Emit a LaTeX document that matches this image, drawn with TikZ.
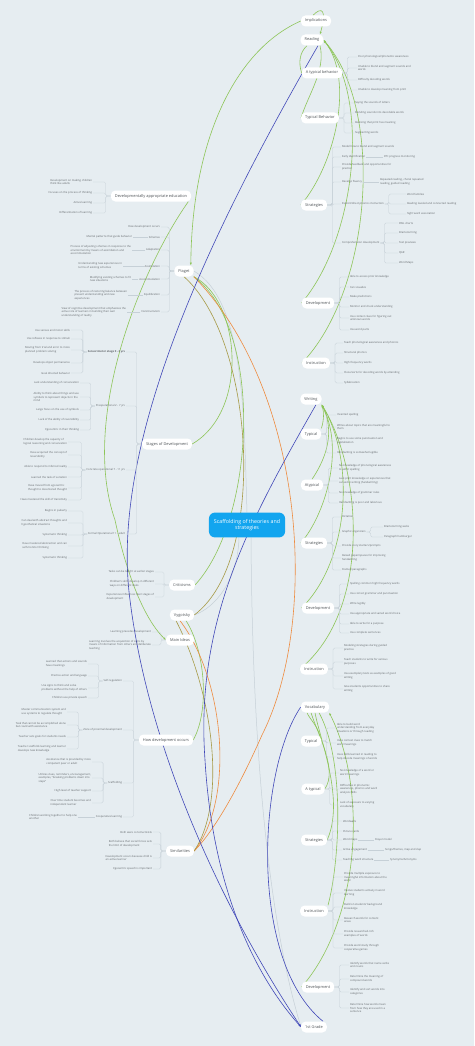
\documentclass[tikz,border=0pt]{standalone}
\usepackage{fontspec}
\setmainfont{Open Sans}
\usetikzlibrary{arrows.meta}
\definecolor{mapbg}{HTML}{E6EDF1}
\definecolor{mapblue}{HTML}{12A5EF}
\definecolor{topictext}{HTML}{4E5357}
\definecolor{leaftext}{HTML}{62676B}
\definecolor{leafline}{HTML}{C6D0D7}
\definecolor{relgreen}{HTML}{8DC558}
\definecolor{relblue}{HTML}{4148B8}
\definecolor{relorange}{HTML}{EE8B3F}
\definecolor{relolive}{HTML}{A69A45}

\newcommand{\leaffont}{\fontsize{2.7}{3.5}\selectfont}
\newcommand{\topicfont}{\fontsize{3.9}{4.7}\selectfont}
\newcommand{\centralfont}{\fontsize{5.3}{6.5}\selectfont}

\pgfdeclarelayer{background}
\pgfsetlayers{background,main}

\tikzset{
  topic/.style={fill=white, rounded corners=4.5pt, font=\topicfont, text=topictext,
    text height=3pt, text depth=1pt, inner xsep=4pt, inner ysep=3.5pt},
  central/.style={fill=mapblue, rounded corners=6pt, font=\centralfont, text=white,
    align=center, inner xsep=5pt, inner ysep=6.5pt},
  rleaf/.style={anchor=west, align=left, font=\leaffont, text=leaftext, inner sep=0.8pt},
  lleaf/.style={anchor=east, align=left, font=\leaffont, text=leaftext, inner sep=0.8pt},
  leafedge/.style={leafline, line width=0.3pt, rounded corners=1.5pt},
  treeline/.style={leafline, line width=0.5pt},
  relline/.style={line width=0.6pt},
  arrowend/.style={-{Latex[length=2.6pt,width=2.2pt]}},
}

\begin{document}
\begin{tikzpicture}[x=1pt,y=-1pt]
\begin{pgfonlayer}{background}
  \fill[mapbg] (0,0) rectangle (474,1046);
\end{pgfonlayer}
\useasboundingbox (0,0) rectangle (474,1046);

% central topic
\node[central] (central) at (247,525) {Scaffolding of theories and\\strategies};

% right column topics
\node[topic] (impl) at (316,21) {Implications};
\node[topic] (read) at (312,40) {Reading};
\node[topic] (rdatyp) at (322,73) {A typical behavior};
\node[topic] (rdtyp) at (320,118) {Typical Behavior};
\node[topic] (rdstrat) at (314,205) {Strategies};
\node[topic] (rddev) at (318,303) {Development};
\node[topic] (rdinstr) at (316,363) {Instruction};
\node[topic] (writ) at (311,399) {Writing};
\node[topic] (wrtyp) at (311,434) {Typical};
\node[topic] (wratyp) at (312,485) {Atypical};
\node[topic] (wrstrat) at (314,543) {Strategies};
\node[topic] (wrdev) at (318,608) {Development};
\node[topic] (wrinstr) at (314,669) {Instruction};
\node[topic] (voc) at (315,707) {Vocabulary};
\node[topic] (vctyp) at (311,741) {Typical};
\node[topic] (vcatyp) at (313,789) {A typical};
\node[topic] (vcstrat) at (314,840) {Strategies};
\node[topic] (vcinstr) at (314,911) {Instruction};
\node[topic] (vcdev) at (318,987) {Development};
\node[topic] (grade) at (314,1027) {1st Grade};

% left column topics
\node[topic] (dae) at (151,196) {Developmentally appropriate education};
\node[topic] (piaget) at (184,271) {Piaget};
\node[topic] (stages) at (167,444) {Stages of Development};
\node[topic] (crit) at (182,585) {Criticisms};
\node[topic] (vyg) at (182,615) {Vygotsky};
\node[topic] (mainid) at (180,640) {Main Ideas};
\node[topic] (howdev) at (166,740) {How development occurs};
\node[topic] (simil) at (180,851) {Similarities};

% reading leaves
\foreach \y/\t [count=\i] in {57/{Poor phonological/phonemic awareness}, 68/{Unable to blend and segment sounds and\\words}, 80/{Difficulty decoding words}, 90/{Unable to develop meaning from print}}
  {\node[rleaf] (rdatyp\i) at (357,\y) {\t};
   \draw[leafedge] (rdatyp.east) -- ++(5,0) |- (rdatyp\i.west);}
\foreach \y/\t [count=\i] in {103/{Saying the sounds of letters}, 113/{Blending sounds into decodable words}, 123/{Realizing that print has meaning}, 133/{Segmenting words}}
  {\node[rleaf] (rdtyp\i) at (354,\y) {\t};
   \draw[leafedge] (rdtyp.east) -- ++(5,0) |- (rdtyp\i.west);}
\foreach \y/\t [count=\i] in {147/{Model how to blend and segment sounds}, 157/{Early identification}, 167/{Provide feedback and opportunities for\\practice}, 182/{Develop fluency}, 204/{Explicit/direct phonics instruction}, 243/{Comprehension development}}
  {\node[rleaf] (rdstrat\i) at (341,\y) {\t};
   \draw[leafedge] (rdstrat.east) -- ++(5,0) |- (rdstrat\i.west);}
\node[rleaf] (rdstrat2a) at (383,157) {RTI: progress monitoring};
\draw[leafedge] (rdstrat2.east) -- (rdstrat2a.west);
\node[rleaf] (rdstrat4a) at (379,182) {Repeated reading, choral repeated\\reading, guided reading};
\draw[leafedge] (rdstrat4.east) -- (rdstrat4a.west);
\foreach \y/\t [count=\i] in {194/{Word families}, 204/{Reading leveled and connected reading}, 214/{Sight word association}}
  {\node[rleaf] (rdstrat5x\i) at (406,\y) {\t};
   \draw[leafedge] (rdstrat5.east) -- ++(4,0) |- (rdstrat5x\i.west);}
\foreach \y/\t [count=\i] in {223/{KWL charts}, 233/{Brainstorming}, 243/{Text previews}, 253/{QAR}, 263/{Word Maps}}
  {\node[rleaf] (rdstrat6x\i) at (398,\y) {\t};
   \draw[leafedge] (rdstrat6.east) -- ++(4,0) |- (rdstrat6x\i.west);}
\foreach \y/\t [count=\i] in {277/{Able to access prior knowledge}, 287/{Can visualize}, 297/{Make predictions}, 307/{Monitor and check understanding}, 318/{Use context clues for figuring out\\unknown words}, 330/{Use word parts}}
  {\node[rleaf] (rddev\i) at (349,\y) {\t};
   \draw[leafedge] (rddev.east) -- ++(5,0) |- (rddev\i.west);}
\foreach \y/\t [count=\i] in {343/{Teach phonological awareness and phonics}, 353/{Structural phonics}, 363/{High frequency words}, 373/{Cloze/sorts for decoding words by attending}, 383/{Syllabication}}
  {\node[rleaf] (rdinstr\i) at (343,\y) {\t};
   \draw[leafedge] (rdinstr.east) -- ++(5,0) |- (rdinstr\i.west);}

% writing leaves
\foreach \y/\t [count=\i] in {415/{Invented spelling}, 427/{Writes about topics that are meaningful to\\them}, 441/{Begins to use some punctuation and\\capitalization}, 453/{Handwriting is somewhat legible}}
  {\node[rleaf] (wrtyp\i) at (336,\y) {\t};
   \draw[leafedge] (wrtyp.east) -- ++(5,0) |- (wrtyp\i.west);}
\foreach \y/\t [count=\i] in {468/{No knowledge of phonological awareness\\to aid in spelling}, 481/{Lack print knowledge or experiences that\\can aid in writing (handwriting)}, 493/{No knowledge of grammar rules}, 503/{Handwriting is poor and laborious}}
  {\node[rleaf] (wratyp\i) at (338,\y) {\t};
   \draw[leafedge] (wratyp.east) -- ++(5,0) |- (wratyp\i.west);}
\foreach \y/\t [count=\i] in {517/{Dictation}, 532/{Graphic organizers}, 546/{Provide story starters/prompts}, 558/{Raised paper/spaces for improving\\handwriting}, 570/{Framed paragraphs}}
  {\node[rleaf] (wrstrat\i) at (341,\y) {\t};
   \draw[leafedge] (wrstrat.east) -- ++(5,0) |- (wrstrat\i.west);}
\foreach \y/\t [count=\i] in {527/{Brainstorming webs}, 537/{Paragraph hamburger}}
  {\node[rleaf] (wrstrat2x\i) at (383,\y) {\t};
   \draw[leafedge] (wrstrat2.east) -- ++(4,0) |- (wrstrat2x\i.west);}
\foreach \y/\t [count=\i] in {584/{Spelling common high frequency words}, 594/{Use correct grammar and punctuation}, 604/{Write legibly}, 614/{Use appropriate and varied word choice}, 624/{Able to write for a purpose}, 633/{Use complete sentences}}
  {\node[rleaf] (wrdev\i) at (349,\y) {\t};
   \draw[leafedge] (wrdev.east) -- ++(5,0) |- (wrdev\i.west);}
\foreach \y/\t [count=\i] in {648/{Modeling strategies during guided\\practice}, 662/{Teach students to write for various\\purposes}, 676/{Use exemplary texts as examples of good\\writing}, 689/{Give students opportunities to share\\writing}}
  {\node[rleaf] (wrinstr\i) at (343,\y) {\t};
   \draw[leafedge] (wrinstr.east) -- ++(5,0) |- (wrinstr\i.west);}

% vocabulary leaves
\foreach \y/\t [count=\i] in {728/{Able to build word\\understanding from everyday\\situations or through reading}, 743/{Uses context clues to match\\word meanings}, 757/{Uses skills learned in reading to\\help decode meanings of words}}
  {\node[rleaf] (vctyp\i) at (336,\y) {\t};
   \draw[leafedge] (vctyp.east) -- ++(5,0) |- (vctyp\i.west);}
\foreach \y/\t [count=\i] in {773/{No knowledge of a word or\\word meanings}, 789/{Difficulties in phonemic\\awareness, phonics and word\\analysis skills}, 805/{Lack of exposure to varying\\vocabulary}}
  {\node[rleaf] (vcatyp\i) at (339,\y) {\t};
   \draw[leafedge] (vcatyp.east) -- ++(5,0) |- (vcatyp\i.west);}
\foreach \y/\t [count=\i] in {821/{Wordwalls}, 831/{Picture cards}, 840/{Word maps}, 850/{Active engagement}, 860/{Teaching word structure}}
  {\node[rleaf] (vcstrat\i) at (342,\y) {\t};
   \draw[leafedge] (vcstrat.east) -- ++(5,0) |- (vcstrat\i.west);}
\node[rleaf] (vcstrat3a) at (374,840) {Frayer model};
\draw[leafedge] (vcstrat3.east) -- (vcstrat3a.west);
\node[rleaf] (vcstrat4a) at (384,850) {Songs/themes, map and clap};
\draw[leafedge] (vcstrat4.east) -- (vcstrat4a.west);
\node[rleaf] (vcstrat5a) at (389,860) {Synonyms/Antonyms};
\draw[leafedge] (vcstrat5.east) -- (vcstrat5a.west);
\foreach \y/\t [count=\i] in {877/{Provide multiple exposure to\\meaningful information about the\\word}, 893/{Involve students actively in word\\learning}, 907/{Build on students' background\\knowledge}, 920/{Research words for content\\areas}, 934/{Provide researched-rich\\examples of words}, 948/{Provide word study through\\cooperative games}}
  {\node[rleaf] (vcinstr\i) at (343,\y) {\t};
   \draw[leafedge] (vcinstr.east) -- ++(5,0) |- (vcinstr\i.west);}
\foreach \y/\t [count=\i] in {965/{Identify words that name verbs\\and nouns}, 979/{Determine the meaning of\\compound words}, 992/{Identify and sort words into\\categories}, 1008/{Determine how words mean\\from how they are used in a\\sentence}}
  {\node[rleaf] (vcdev\i) at (349,\y) {\t};
   \draw[leafedge] (vcdev.east) -- ++(5,0) |- (vcdev\i.west);}

% left leaves
\foreach \y/\t [count=\i] in {182/{Development on making children\\think like adults}, 193/{Focuses on the process of thinking}, 203/{Active learning}, 213/{Differentiation of learning}}
  {\node[lleaf] (dae\i) at (93,\y) {\t};
   \draw[leafedge] (dae.west) -- ++(-5,0) |- (dae\i.east);}

\node[lleaf] (piaget1) at (161,227) {How development occurs};
\draw[leafedge] (piaget.west) -- ++(-5,0) |- (piaget1.east);
\foreach \y/\t/\cx/\c [count=\i from 2] in {237/Schemas/133/{Mental patterns that guide behavior}, 250/Adaptation/132/{Process of adjusting schemes in response to the\\environment by means of assimilation and\\accommodation}, 266/Assimilation/123/{Understanding new experiences in\\terms of existing schemes}, 279/Accommodation/132/{Modifying existing schemes to fit\\new situations}, 295/Equilibration/128/{The process of restoring balance between\\present understanding and new\\experiences}, 312/Constructivism/127/{View of cognitive development that emphasizes the\\active role of learners in building their own\\understanding of reality}}
  {\node[lleaf] (piaget\i) at (161,\y) {\t};
   \draw[leafedge] (piaget.west) -- ++(-5,0) |- (piaget\i.east);
   \node[lleaf] (pgsub\i) at (\cx,\y) {\c};
   \draw[leafedge] (piaget\i.west) -- (pgsub\i.east);}

\node[lleaf] (stage1) at (126,352) {\textbf{Sensorimotor stage 0 - 2 yrs}};
\node[lleaf] (stage2) at (126,406) {Preoperational 2 - 7 yrs};
\node[lleaf] (stage3) at (126,470) {Concrete operational 7 - 11 yrs};
\node[lleaf] (stage4) at (126,534) {Formal Operational 11 - adult};
\foreach \s in {1,2,3,4}
  {\draw[leafedge] (stages.west) -- ++(-5,0) |- (stage\s.east);}
\foreach \y/\t [count=\i] in {330/{Use senses and motor skills}, 339/{Use reflexes in response to stimuli}, 350/{Moving from trial and error to more\\planned problem solving}, 363/{Develops object permanence}, 373/{Goal directed behavior}}
  {\node[lleaf] (stage1x\i) at (71,\y) {\t};
   \draw[leafedge] (stage1.west) -- ++(-4,0) |- (stage1x\i.east);}
\foreach \y/\t [count=\i] in {383/{Lack understanding of conservation}, 397/{Ability to think about things and use\\symbols to represent objects in the\\mind}, 410/{Large focus on the use of symbols}, 420/{Lack of the ability of reversibility}, 430/{Egocentric in their thinking}}
  {\node[lleaf] (stage2x\i) at (80,\y) {\t};
   \draw[leafedge] (stage2.west) -- ++(-4,0) |- (stage2x\i.east);}
\foreach \y/\t [count=\i] in {442/{Children develop the capacity of\\logical reasoning and conservation}, 455/{Have acquired the concept of\\reversibility}, 467/{Able to respond to inferred reality}, 477/{Learned the task of seriation}, 488/{Have moved from egocentric\\thought to decentered thought}, 500/{Have mastered the skill of transitivity}}
  {\node[lleaf] (stage3x\i) at (68,\y) {\t};
   \draw[leafedge] (stage3.west) -- ++(-4,0) |- (stage3x\i.east);}
\foreach \y/\t [count=\i] in {511/{Begins in puberty}, 523/{Can deal with abstract thoughts and\\hypothetical situations}, 535/{Systematic thinking}, 546/{Have mastered abstraction and can\\self-monitor thinking}, 558/{Systematic thinking}}
  {\node[lleaf] (stage4x\i) at (68,\y) {\t};
   \draw[leafedge] (stage4.west) -- ++(-4,0) |- (stage4x\i.east);}

\foreach \y/\t [count=\i] in {572/{Tasks can be taught at earlier stages}, 584/{Children's skills develop in different\\ways on different tasks}, 597/{Experiences influences their stages of\\development}}
  {\node[lleaf] (crit\i) at (155,\y) {\t};
   \draw[leafedge] (crit.west) -- ++(-5,0) |- (crit\i.east);}
\foreach \y/\t [count=\i] in {632/{Learning precedes development}, 645/{Learning involves the acquisition of signs by\\means of information from others and deliberate\\teaching}}
  {\node[lleaf] (mainid\i) at (152,\y) {\t};
   \draw[leafedge] (mainid.west) -- ++(-5,0) |- (mainid\i.east);}

\node[lleaf] (howdev1) at (123,681) {Self-regulation};
\node[lleaf] (howdev2) at (123,730) {Zone of proximal development};
\node[lleaf] (howdev3) at (123,783) {Scaffolding};
\node[lleaf] (howdev4) at (123,817) {Cooperative learning};
\foreach \s in {1,2,3,4}
  {\draw[leafedge] (howdev.west) -- ++(-5,0) |- (howdev\s.east);}
\foreach \y/\t [count=\i] in {664/{Learned that actions and sounds\\have meanings}, 676/{Practice action and language}, 688/{Use signs to think and solve\\problems without the help of others}, 698/{Children use private speech}}
  {\node[lleaf] (howdev1x\i) at (88,\y) {\t};
   \draw[leafedge] (howdev1.west) -- ++(-4,0) |- (howdev1x\i.east);}
\foreach \y/\t [count=\i] in {712/{Master communication system and\\use systems to regulate thought}, 725/{Task that cannot be accomplished alone\\but could with assistance}, 737/{Teacher sets goals for students needs}, 749/{Teacher scaffolds learning and learner\\develops new knowledge}}
  {\node[lleaf] (howdev2x\i) at (67,\y) {\t};
   \draw[leafedge] (howdev2.west) -- ++(-4,0) |- (howdev2x\i.east);}
\foreach \y/\t [count=\i] in {762/{Assistance that is provided by more\\competent peer or adult}, 778/{Utilizes clues, reminders, encouragement,\\examples, “breaking problems down into\\steps”}, 791/{High level of teacher support}, 803/{Over time student becomes and\\independent learner}}
  {\node[lleaf] (howdev3x\i) at (92,\y) {\t};
   \draw[leafedge] (howdev3.west) -- ++(-4,0) |- (howdev3x\i.east);}
\node[lleaf] (howdev4x1) at (78,817) {Children working together to help one\\another};
\draw[leafedge] (howdev4.west) -- (howdev4x1.east);

\foreach \y/\t [count=\i] in {832/{Both were constructivists}, 844/{Both believe that social forces sets\\the limit of development}, 858/{Development occurs because child is\\an active learner}, 869/{Egocentric speech is important}}
  {\node[lleaf] (simil\i) at (153,\y) {\t};
   \draw[leafedge] (simil.west) -- ++(-5,0) |- (simil\i.east);}

\begin{pgfonlayer}{background}
% tree lines from the central topic
\draw[treeline] (central.north) .. controls (244,420) and (245,300) .. (piaget.east);
\draw[treeline] ([xshift=-8pt]central.south) .. controls (238,580) and (215,608) .. (vyg.east);
\draw[treeline] ([xshift=4pt]central.south) .. controls (252,700) and (262,900) .. (grade.west);

% relationships
\draw[relline, relgreen, arrowend] (impl.west) .. controls (235,50) and (192,140) .. ([xshift=-3pt]piaget.north east);
\draw[relline, relgreen, arrowend] ([xshift=-3pt]impl.north) .. controls (322,6) and (327,10) .. ([xshift=8pt]read.north);
\draw[relline, relgreen, arrowend] ([xshift=-3pt]dae.south east) .. controls (140,270) and (80,420) .. (115,520) .. controls (130,590) and (150,625) .. (mainid.west);
\draw[relline, relgreen] (piaget.south east) .. controls (240,300) and (250,410) .. (stages.east);
\draw[relline, relgreen] (piaget.south east) .. controls (265,330) and (255,520) .. (crit.east);
\draw[relline, relolive] (piaget.south) .. controls (255,340) and (268,560) .. (vyg.east);
\draw[relline, relorange] (piaget.south east) .. controls (305,390) and (320,620) .. (262,735) .. controls (240,785) and (215,830) .. (simil.east);
\draw[relline, relgreen] ([xshift=4pt]vyg.south) .. controls (205,650) and (210,710) .. (howdev.east);
\draw[relline, relorange] ([xshift=-2pt]vyg.south) .. controls (225,680) and (235,800) .. (simil.east);
\draw[relline, relolive] ([xshift=-6pt]vyg.south) .. controls (212,690) and (228,800) .. (simil.east);

\draw[relline, relblue, arrowend] ([xshift=6pt]read.south) .. controls (200,250) and (110,450) .. (130,600) .. controls (150,760) and (230,920) .. (grade.west);
\draw[relline, relblue, arrowend] ([xshift=5pt]writ.south) .. controls (250,520) and (195,620) .. (205,760) .. controls (212,880) and (250,970) .. (grade.west);
\draw[relline, relblue] (voc.west) .. controls (258,770) and (248,960) .. ([xshift=-4pt]grade.north east);

% reading relationships
\draw[relline, relgreen] (rdatyp.west) .. controls (298,62) and (300,52) .. ([xshift=-5pt]read.south);
\draw[relline, relgreen] (rdtyp.west) .. controls (308,95) and (326,70) .. ([xshift=8pt]read.south);
\draw[relline, relgreen, arrowend] (rdstrat.west) .. controls (335,165) and (355,80) .. (read.east);
\draw[relline, relgreen, arrowend] (rddev.west) .. controls (355,240) and (372,100) .. (read.east);
\draw[relline, relgreen, arrowend] (rdinstr.west) .. controls (372,290) and (385,110) .. (read.east);

% writing relationships
\draw[relline, relgreen, arrowend] (wrtyp.north east) .. controls (324,420) and (324,412) .. (writ.south east);
\draw[relline, relgreen] (wratyp.north) .. controls (335,445) and (330,420) .. (writ.south east);
\draw[relline, relgreen, arrowend] (wrstrat.west) .. controls (325,515) and (345,450) .. (writ.south east);
\draw[relline, relgreen, arrowend] (wrdev.west) .. controls (350,560) and (355,460) .. (writ.south east);
\draw[relline, relgreen, arrowend] (wrinstr.west) .. controls (372,610) and (362,470) .. (writ.south east);

% vocabulary relationships
\draw[relline, relgreen] (vctyp.east) .. controls (318,725) and (310,720) .. ([xshift=-8pt]voc.south);
\draw[relline, relgreen] (vcatyp.east) .. controls (338,770) and (318,735) .. ([xshift=-4pt]voc.south);
\draw[relline, relgreen] (vcstrat.east) .. controls (345,800) and (320,740) .. (voc.south);
\draw[relline, relgreen] (vcinstr.north east) .. controls (340,860) and (345,760) .. ([xshift=4pt]voc.south);
\draw[relline, relgreen, arrowend] (vcdev.west) .. controls (360,920) and (368,790) .. (voc.south east);
\end{pgfonlayer}
\end{tikzpicture}
\end{document}
